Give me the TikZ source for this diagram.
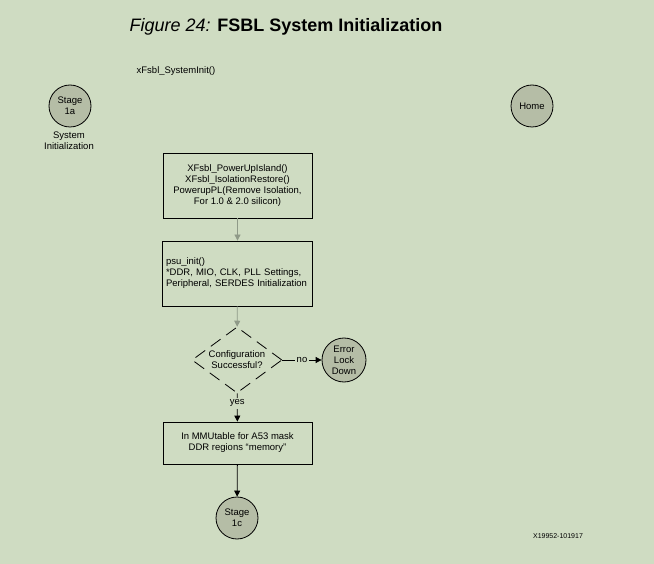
\documentclass[tikz,border=0pt]{standalone}
\usepackage{fontspec}
\setmainfont{Liberation Sans}
\usetikzlibrary{positioning,shapes.geometric,arrows.meta}
\definecolor{bg}{HTML}{CFDCC2}
\definecolor{stagefill}{HTML}{B5BDA6}
\definecolor{flowgray}{HTML}{8F9A88}
\begin{document}
\begin{tikzpicture}[x=1pt,y=-1pt,font=\fontsize{9.5}{11}\selectfont,
  stage/.style={circle,draw,thick,fill=stagefill,minimum size=42pt,inner sep=0pt,align=center},
  procbox/.style={draw,thick,minimum width=149pt,align=center},
  flow/.style={-{Triangle[length=6pt,width=6pt]},thick}]
\fill[bg] (0,0) rectangle (654,564);
\useasboundingbox (0,0) rectangle (654,564);
% header
\node[font=\fontsize{18}{21}\selectfont] (title) at (286,27) {\textit{Figure 24:} \textbf{FSBL System Initialization}};
\node (func) at (176,71) {xFsbl\_SystemInit()};
% stages
\node[stage] (s1a) at (70,106) {Stage\\1a};
\node[align=center] (s1alab) at (69,141) {System\\Initialization};
\node[stage] (home) at (532,106) {Home};
% flow
\node[procbox,minimum height=65pt] (pwr) at (237.5,185.5) {XFsbl\_PowerUpIsland()\\XFsbl\_IsolationRestore()\\PowerupPL(Remove Isolation,\\For 1.0 \& 2.0 silicon)};
\node[procbox,minimum height=65pt,text width=143pt,align=left] (psu) at (237.5,273.5) {psu\_init()\\{}*DDR, MIO, CLK, PLL Settings,\\Peripheral, SERDES Initialization};
\node[diamond,draw,thick,dashed,dash pattern=on 12pt off 7pt,minimum width=90pt,minimum height=66pt,inner sep=0pt,align=center,aspect=1.4] (cfg) at (237,360) {Configuration\\Successful?};
\node[stage,minimum size=44pt] (err) at (344,360) {Error\\Lock\\Down};
\node[procbox,minimum height=42pt] (mmu) at (237.5,443) {In MMUtable for A53 mask\\DDR regions ``memory''};
\node[stage] (s1c) at (237,518) {Stage\\1c};
\node[font=\fontsize{7}{8}\selectfont] (code) at (558,536) {X19952-101917};
\draw[flow,flowgray] (pwr) -- (psu);
\draw[flow,flowgray] (psu) -- (cfg);
\draw[flow] (cfg) -- node[fill=bg,inner sep=2pt] {no} (err);
\draw[flow] (cfg) -- node[fill=bg,inner sep=2pt,pos=0.35] {yes} (mmu);
\draw[flow] (mmu) -- (s1c);
\end{tikzpicture}
\end{document}
